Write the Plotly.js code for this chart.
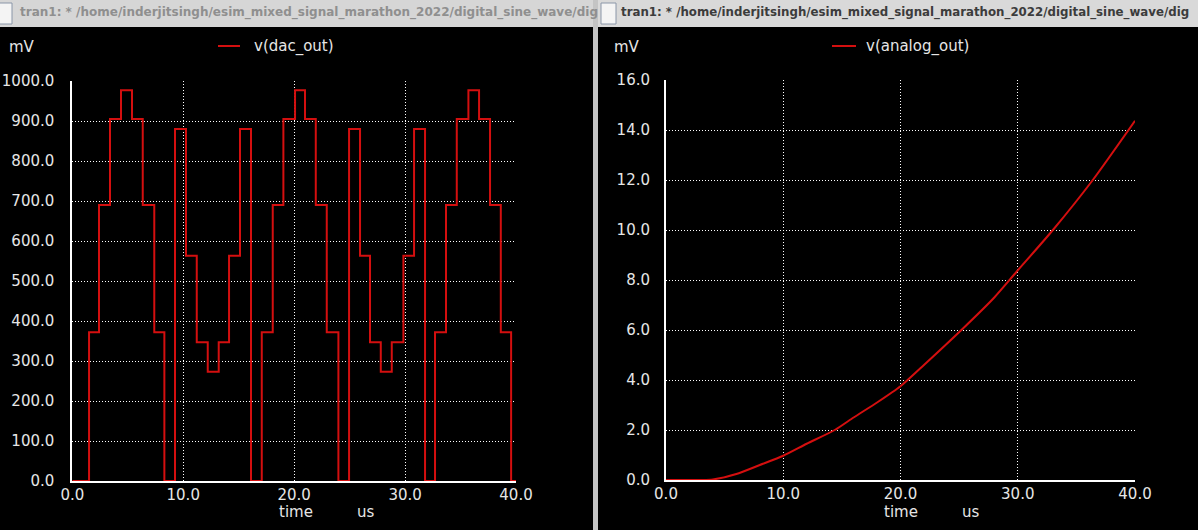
<!DOCTYPE html>
<html>
<head>
<meta charset="utf-8">
<script src="https://cdn.plot.ly/plotly-3.0.1.min.js"></script>
<style>
html,body{margin:0;padding:0;background:#000;}
#chart{width:1198px;height:530px;}
</style>
</head>
<body>
<div id="chart"></div>
<script>
// ---- data: v(dac_out), step waveform (transition times in us, levels in mV) ----
const dacTimes = [0, 1.51, 2.41, 3.40, 4.39, 5.38, 6.35, 7.39, 8.30, 9.26, 10.25,
  11.22, 12.21, 13.20, 14.13, 15.12, 16.11, 17.08, 18.07, 19.03, 20.08,
  20.98, 21.95, 22.94, 23.99, 24.95, 25.94, 26.84, 27.81, 28.80, 29.85,
  30.81, 31.80, 32.70, 33.69, 34.66, 35.71, 36.67, 37.66, 38.63, 39.56, 40.0];
const dacLevels = [0, 372, 690, 905, 977, 905, 690, 372, 0, 880,
  563, 347, 273, 347, 563, 880, 0, 372, 690, 905,
  977, 905, 690, 372, 0, 880, 563, 347, 273, 347,
  563, 880, 0, 372, 690, 905, 977, 905, 690, 372, 0, 0];

// ---- data: v(analog_out) (time in us, mV) ----
const anaTimes = [0, 3.0, 4.0, 6.0, 8.0, 10.0, 12.0, 14.4, 16.0, 18.0, 20.0, 22.0, 25.35, 28.0, 29.9, 33.0, 36.4, 40.0];
const anaValues = [0, 0.0, 0.02, 0.24, 0.6, 0.97, 1.45, 2.0, 2.5, 3.1, 3.75, 4.6, 6.07, 7.3, 8.33, 10.0, 12.0, 14.37];

// ---- labels ----
const windowTitle = "tran1: * /home/inderjitsingh/esim_mixed_signal_marathon_2022/digital_sine_wave/dig";
const leftName = "v(dac_out)";
const rightName = "v(analog_out)";
const unitY = "mV";
const xWord = "time";
const xUnit = "us";

const W = 1198, H = 530;
const px = x => x / W;
const py = y => 1 - y / H;
const FONT = "DejaVu Sans, sans-serif";
const TXT = "#e6e6e6";
const RED = "#d40f0f";

const traces = [
  {x: dacTimes, y: dacLevels, type: "scatter", mode: "lines", name: leftName,
   line: {color: RED, width: 2, shape: "hv"}, xaxis: "x", yaxis: "y", showlegend: false},
  {x: anaTimes, y: anaValues, type: "scatter", mode: "lines", name: rightName,
   line: {color: RED, width: 2, shape: "spline", smoothing: 0.6}, xaxis: "x2", yaxis: "y2", showlegend: false}
];

function xAx(domain, standoff) {
  return {domain: domain, range: [0, 40], dtick: 10, tick0: 0, tickformat: ".1f",
    showgrid: true, gridcolor: "#ffffff", gridwidth: 1, griddash: "1px,2px",
    showline: true, linecolor: "#ffffff", linewidth: 2, zeroline: false,
    ticks: "", ticklabelstandoff: standoff, layer: "below traces",
    tickfont: {family: FONT, size: 15, color: TXT}, fixedrange: true};
}
function yAx(domain, range, dtick, standoff) {
  return {domain: domain, range: range, dtick: dtick, tick0: 0, tickformat: ".1f",
    showgrid: true, gridcolor: "#ffffff", gridwidth: 1, griddash: "1px,2px",
    showline: true, linecolor: "#ffffff", linewidth: 2, zeroline: false,
    ticks: "", ticklabelstandoff: standoff, layer: "below traces",
    tickfont: {family: FONT, size: 15, color: TXT}, fixedrange: true};
}

const shapes = [
  // left title bar
  {type: "rect", xref: "paper", yref: "paper", x0: 0, x1: px(593), y0: py(27), y1: 1, fillcolor: "#d6d6d6", line: {width: 0}, layer: "below"},
  // right title bar
  {type: "rect", xref: "paper", yref: "paper", x0: px(598), x1: 1, y0: py(27), y1: 1, fillcolor: "#d9d9d9", line: {width: 0}, layer: "below"},
  // divider between windows
  {type: "rect", xref: "paper", yref: "paper", x0: px(593), x1: px(598), y0: 0, y1: 1, fillcolor: "#c4c4c4", line: {width: 0}, layer: "below"},
  // window icons
  {type: "rect", xref: "paper", yref: "paper", x0: px(-2), x1: px(12), y0: py(24), y1: py(3), fillcolor: "#f4f4f4", line: {color: "#8a96a8", width: 1}, layer: "below"},
  {type: "rect", xref: "paper", yref: "paper", x0: px(601), x1: px(616), y0: py(24), y1: py(3), fillcolor: "#f4f4f4", line: {color: "#8a96a8", width: 1}, layer: "below"},
  // legend line samples
  {type: "line", xref: "paper", yref: "paper", x0: px(218), x1: px(240), y0: py(46), y1: py(46), line: {color: RED, width: 2}},
  {type: "line", xref: "paper", yref: "paper", x0: px(832), x1: px(856), y0: py(46), y1: py(46), line: {color: RED, width: 2}}
];

function ann(text, x, y, opts) {
  return Object.assign({text: text, xref: "paper", yref: "paper", x: px(x), y: py(y),
    xanchor: "left", yanchor: "middle", showarrow: false,
    font: {family: FONT, size: 15, color: TXT}}, opts || {});
}

const annotations = [
  ann(windowTitle, 18, 13, {font: {family: FONT, size: 12, color: "#8f8f8f", weight: "bold"}}),
  ann(windowTitle, 619, 13, {font: {family: FONT, size: 11.8, color: "#3c3c3c", weight: "bold"}}),
  ann(unitY, 7, 47),
  ann(unitY, 612, 47),
  ann(leftName, 252, 47),
  ann(rightName, 864, 47),
  ann(xWord, 296, 512, {xanchor: "center"}),
  ann(xUnit, 366, 512, {xanchor: "center"}),
  ann(xWord, 901, 512, {xanchor: "center"}),
  ann(xUnit, 971, 512, {xanchor: "center"})
];

const layout = {
  width: W, height: H,
  margin: {l: 0, r: 0, t: 0, b: 0, pad: 0},
  paper_bgcolor: "#000000", plot_bgcolor: "#000000",
  showlegend: false,
  xaxis: xAx([px(72.3), px(516)], -1),
  yaxis: yAx([py(481), py(81)], [0, 1000], 100, 13),
  xaxis2: Object.assign(xAx([px(666), px(1135)], -1), {anchor: "y2"}),
  yaxis2: Object.assign(yAx([py(480), py(80)], [0, 16], 2, 11), {anchor: "x2"}),
  shapes: shapes,
  annotations: annotations
};
layout.xaxis.anchor = "y";
layout.yaxis.anchor = "x";

Plotly.newPlot("chart", traces, layout, {displayModeBar: false, staticPlot: true});
</script>
</body>
</html>
